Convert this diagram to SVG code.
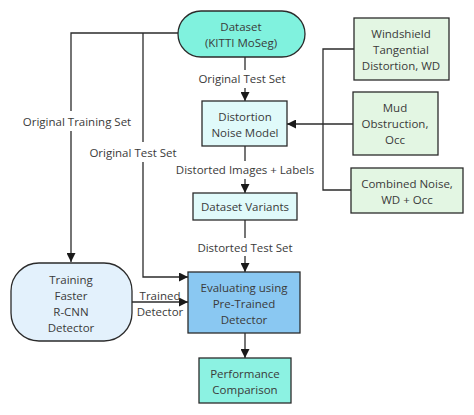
<svg xmlns="http://www.w3.org/2000/svg" width="474" height="415" viewBox="0 0 474 415">
<defs>
<style>
text{font-family:"Open Sans","Noto Sans","DejaVu Sans",sans-serif;font-size:11.5px;fill:#3a3a3a;text-anchor:middle}
.n{stroke:#2b2b2b;stroke-width:1.3}
.c{fill:none;stroke:#2b2b2b;stroke-width:1.3}
.lb{fill:#ffffff;stroke:none}
</style>
<marker id="ah" viewBox="0 0 10 10" refX="10" refY="5" markerWidth="9" markerHeight="9" markerUnits="userSpaceOnUse" orient="auto">
<path d="M0,0 L10,5 L0,10 z" fill="#1a1a1a"/>
</marker>
</defs>
<rect width="474" height="415" fill="#ffffff"/>
<g id="connectors">
<path class="c" d="M178,33 H71 V262" marker-end="url(#ah)"/>
<path class="c" d="M143,33 V277 H188" marker-end="url(#ah)"/>
<path class="c" d="M245,57 V101" marker-end="url(#ah)"/>
<path class="c" d="M245,146 V193" marker-end="url(#ah)"/>
<path class="c" d="M245,220 V272" marker-end="url(#ah)"/>
<path class="c" d="M245,333 V358" marker-end="url(#ah)"/>
<path class="c" d="M132,302 H188" marker-end="url(#ah)"/>
<path class="c" d="M354,49 H323 V190 H351"/>
<path class="c" d="M353,124 H287" marker-end="url(#ah)"/>
<rect class="lb" x="18" y="111" width="118" height="20"/>
<rect class="lb" x="85" y="142" width="96" height="20"/>
<rect class="lb" x="192" y="70" width="104" height="18"/>
<rect class="lb" x="170" y="161" width="150" height="18"/>
<rect class="lb" x="189" y="238" width="112" height="18"/>
<text x="77" y="125.5">Original Training Set</text>
<text x="133" y="156.5">Original Test Set</text>
<text x="242" y="83">Original Test Set</text>
<text x="245" y="174">Distorted Images + Labels</text>
<text x="245" y="252">Distorted Test Set</text>
<text x="160" y="300">Trained</text>
<text x="160" y="316">Detector</text>
</g>
<g id="dataset">
<rect class="n" x="178" y="11" width="127" height="46" rx="23" fill="#80f2de"/>
<text x="241" y="30.5">Dataset</text>
<text x="241" y="46.5">(KITTI MoSeg)</text>
</g>
<g id="distortion">
<rect class="n" x="202" y="101" width="85" height="45" fill="#e0fafa"/>
<text x="245" y="120.5">Distortion</text>
<text x="245" y="136.5">Noise Model</text>
</g>
<g id="variants">
<rect class="n" x="193" y="193" width="104" height="27" fill="#e0fafa"/>
<text x="245" y="210.5">Dataset Variants</text>
</g>
<g id="evaluating">
<rect class="n" x="188" y="272" width="112" height="61" fill="#8ac8f2"/>
<text x="244" y="291.5">Evaluating using</text>
<text x="244" y="307.5">Pre-Trained</text>
<text x="244" y="323.5">Detector</text>
</g>
<g id="performance">
<rect class="n" x="199" y="358" width="92" height="45" fill="#8cf2e2"/>
<text x="245" y="377.5">Performance</text>
<text x="245" y="393.5">Comparison</text>
</g>
<g id="training">
<rect class="n" x="11" y="263" width="121" height="78" rx="28" fill="#e3f1fc"/>
<text x="71" y="284">Training</text>
<text x="71" y="300">Faster</text>
<text x="71" y="316">R-CNN</text>
<text x="71" y="332">Detector</text>
</g>
<g id="windshield">
<rect class="n" x="354" y="18" width="95" height="62" fill="#e3f6e3"/>
<text x="401" y="38">Windshield</text>
<text x="401" y="54">Tangential</text>
<text x="401" y="70">Distortion, WD</text>
</g>
<g id="mud">
<rect class="n" x="353" y="92" width="85" height="63" fill="#e3f6e3"/>
<text x="395" y="112">Mud</text>
<text x="395" y="128">Obstruction,</text>
<text x="395" y="144">Occ</text>
</g>
<g id="combined">
<rect class="n" x="351" y="168" width="112" height="45" fill="#e3f6e3"/>
<text x="407" y="187.5">Combined Noise,</text>
<text x="407" y="203.5">WD + Occ</text>
</g>
</svg>
